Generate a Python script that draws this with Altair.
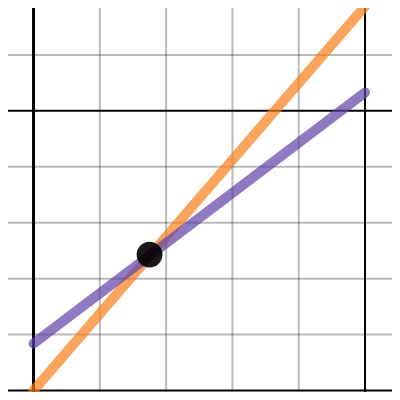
import altair as alt
import pandas as pd

# ---- data ----
line_x = [0, 5]
orange_y = [0.0, 6.87]
purple_y = [0.84, 5.33]
point_x = [1.75]
point_y = [2.43]
grid_x = [1, 2, 3, 4]
grid_y = [1, 2, 3, 4, 6]
axis_left_x = [0]
axis_right_x = [5]
axis_y = [0, 5]

X_DOMAIN = [-0.385, 5.407]
Y_DOMAIN = [-0.026, 6.839]

lines_df = pd.DataFrame({
    "x": line_x + line_x,
    "y": orange_y + purple_y,
    "series": ["orange"] * len(line_x) + ["purple"] * len(line_x),
})
point_df = pd.DataFrame({"x": point_x, "y": point_y})
gx_df = pd.DataFrame({"x": grid_x})
gy_df = pd.DataFrame({"y": grid_y})
axl_df = pd.DataFrame({"x": axis_left_x})
axr_df = pd.DataFrame({"x": axis_right_x})
axy_df = pd.DataFrame({"y": axis_y})

xs = alt.Scale(domain=X_DOMAIN, nice=False, zero=False)
ys = alt.Scale(domain=Y_DOMAIN, nice=False, zero=False)

grid_v = alt.Chart(gx_df).mark_rule(color="black", opacity=0.27, strokeWidth=2).encode(
    x=alt.X("x:Q", scale=xs, axis=None))
grid_h = alt.Chart(gy_df).mark_rule(color="black", opacity=0.27, strokeWidth=2).encode(
    y=alt.Y("y:Q", scale=ys, axis=None))
ax_left = alt.Chart(axl_df).mark_rule(color="black", strokeWidth=3).encode(
    x=alt.X("x:Q", scale=xs, axis=None))
ax_right = alt.Chart(axr_df).mark_rule(color="black", strokeWidth=2).encode(
    x=alt.X("x:Q", scale=xs, axis=None))
ax_h = alt.Chart(axy_df).mark_rule(color="black", strokeWidth=2).encode(
    y=alt.Y("y:Q", scale=ys, axis=None))

lines = alt.Chart(lines_df).mark_line(strokeWidth=10, strokeCap="round", opacity=0.7, clip=True).encode(
    x=alt.X("x:Q", scale=xs, axis=None),
    y=alt.Y("y:Q", scale=ys, axis=None),
    color=alt.Color("series:N", scale=alt.Scale(domain=["orange", "purple"],
                                                range=["#fa7e19", "#6042a6"]), legend=None),
    detail="series:N",
)

pt = alt.Chart(point_df).mark_circle(size=670, color="black", opacity=0.9).encode(
    x=alt.X("x:Q", scale=xs, axis=None),
    y=alt.Y("y:Q", scale=ys, axis=None),
)

chart = alt.layer(grid_v, grid_h, ax_left, ax_right, ax_h, lines, pt).properties(
    width=384, height=384, padding=0, autosize=alt.AutoSizeParams(type="none"),
    background="white",
).configure_view(stroke=None)

chart.save("out.html", embed_options={"renderer": "svg", "actions": False})
